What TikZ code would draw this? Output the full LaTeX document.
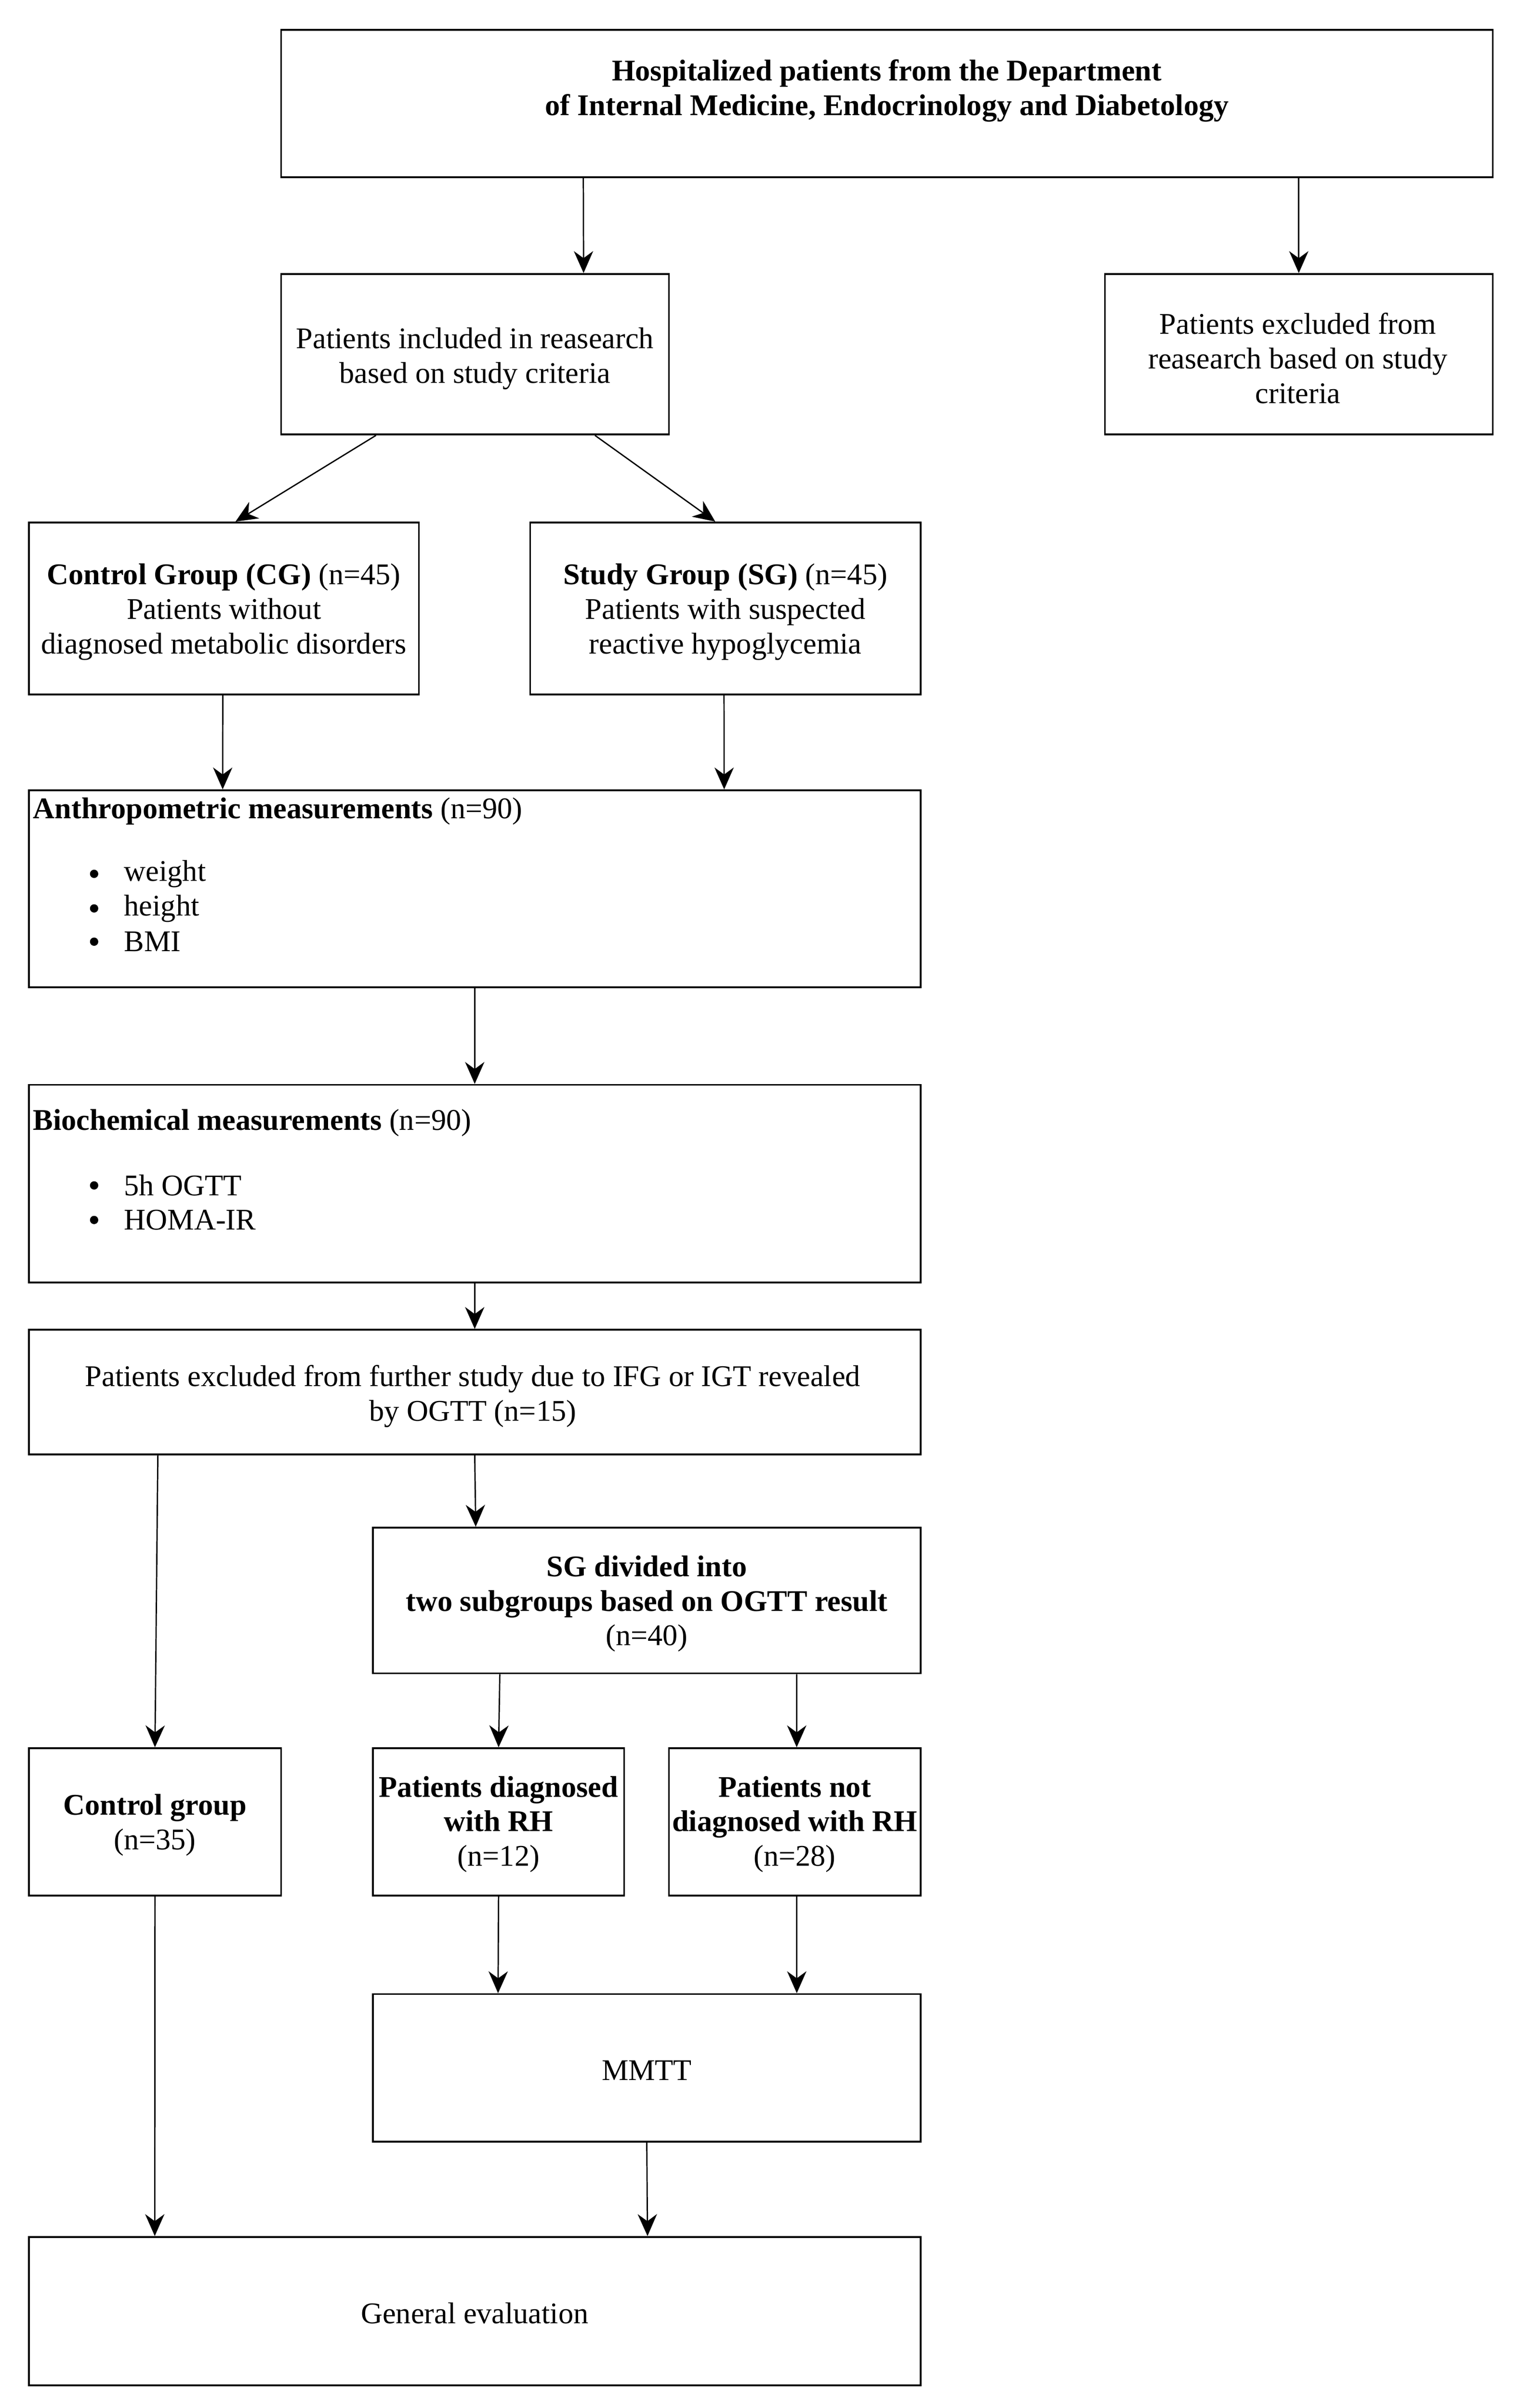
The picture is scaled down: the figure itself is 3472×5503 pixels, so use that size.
\documentclass[tikz,border=0pt]{standalone}
\usepackage{fontspec}
\setmainfont{Liberation Serif}
\usetikzlibrary{arrows.meta,calc}
\begin{document}
\begin{tikzpicture}[x=0.01cm,y=-0.01cm,
  box/.style={draw=black,line width=0.04cm,rectangle,inner sep=0pt,fill=white},
  txt/.style={align=center,inner sep=0pt,font=\fontsize{19.5}{22.5}\selectfont},
  ltxt/.style={anchor=west,inner sep=0pt,font=\fontsize{19.5}{22.5}\selectfont},
  dot/.style={circle,fill=black,inner sep=0pt,minimum size=0.19cm},
  arr/.style={line width=0.03cm,-{Stealth[length=0.5cm,width=0.44cm,inset=0.16cm]}}]
\useasboundingbox[fill=white] (0,0) rectangle (3472,5503);
% boxes
\node[box,minimum width=2768*0.01cm,minimum height=337*0.01cm] (top) at (2026,236.5) {};
\node[box,minimum width=886*0.01cm,minimum height=367*0.01cm] (incl) at (1085,809.5) {};
\node[box,minimum width=886*0.01cm,minimum height=367*0.01cm] (excl) at (2967,809.5) {};
\node[box,minimum width=891*0.01cm,minimum height=393*0.01cm] (cg) at (511.5,1390.5) {};
\node[box,minimum width=892*0.01cm,minimum height=393*0.01cm] (sg) at (1657,1390.5) {};
\node[box,minimum width=2037*0.01cm,minimum height=450*0.01cm] (anthro) at (1084.5,2031) {};
\node[box,minimum width=2037*0.01cm,minimum height=452*0.01cm] (bio) at (1084.5,2705) {};
\node[box,minimum width=2037*0.01cm,minimum height=285*0.01cm] (exfur) at (1084.5,3181.5) {};
\node[box,minimum width=1251*0.01cm,minimum height=333*0.01cm] (sgdiv) at (1477.5,3657.5) {};
\node[box,minimum width=576*0.01cm,minimum height=337*0.01cm] (ctrl) at (354,4163.5) {};
\node[box,minimum width=574*0.01cm,minimum height=337*0.01cm] (diag) at (1139,4163.5) {};
\node[box,minimum width=575*0.01cm,minimum height=337*0.01cm] (notdiag) at (1815.5,4163.5) {};
\node[box,minimum width=1251*0.01cm,minimum height=337*0.01cm] (mmtt) at (1477.5,4725.5) {};
\node[box,minimum width=2037*0.01cm,minimum height=339*0.01cm] (gen) at (1084.5,5281.5) {};
% texts
\node[txt] (ttop) at (2026,207) {\textbf{Hospitalized patients from the Department}\\\textbf{of Internal Medicine, Endocrinology and Diabetology}};
\node[txt] (tincl) at (1085,820) {Patients included in reasearch\\based on study criteria};
\node[txt] (texcl) at (2965,819) {Patients excluded from\\reasearch based on study\\criteria};
\node[txt] (tcg) at (511.5,1398) {\textbf{Control Group (CG)} (n=45)\\Patients without\\diagnosed metabolic disorders};
\node[txt] (tsg) at (1657,1398) {\textbf{Study Group (SG)} (n=45)\\Patients with suspected\\reactive hypoglycemia};
\node[ltxt] (tanthro) at (75,1854) {\textbf{Anthropometric measurements} (n=90)};
\node[dot] (ba1) at (215,1997) {};
\node[ltxt] (ta1) at (283,1997) {weight};
\node[dot] (ba2) at (215,2076) {};
\node[ltxt] (ta2) at (283,2076) {height};
\node[dot] (ba3) at (215,2152) {};
\node[ltxt] (ta3) at (283,2152) {BMI};
\node[ltxt] (tbio) at (75,2566) {\textbf{Biochemical measurements} (n=90)};
\node[dot] (bb1) at (215,2709) {};
\node[ltxt] (tb1) at (283,2709) {5h OGTT};
\node[dot] (bb2) at (215,2788) {};
\node[ltxt] (tb2) at (283,2788) {HOMA-IR};
\node[txt] (texfur) at (1080,3191) {Patients excluded from further study due to IFG or IGT revealed\\by OGTT (n=15)};
\node[txt] (tsgdiv) at (1477.5,3665) {\textbf{SG divided into}\\\textbf{two subgroups based on OGTT result}\\(n=40)};
\node[txt] (tctrl) at (354,4171) {\textbf{Control group}\\(n=35)};
\node[txt] (tdiag) at (1139,4169) {\textbf{Patients diagnosed}\\\textbf{with RH}\\(n=12)};
\node[txt] (tnotdiag) at (1815.5,4169) {\textbf{Patients not}\\\textbf{diagnosed with RH}\\(n=28)};
\node[txt] (tmmtt) at (1477.5,4731) {MMTT};
\node[txt] (tgen) at (1084.5,5286) {General evaluation};
% connectors
\draw[arr] ([xshift=-6.93cm]top.south) -- ([xshift=2.48cm]incl.north);
\draw[arr] (top.south -| excl.north) -- (excl.north);
\draw[arr] ([xshift=-2.26cm]incl.south) -- ([xshift=0.265cm]cg.north);
\draw[arr] ([xshift=2.74cm]incl.south) -- ([xshift=-0.23cm]sg.north);
\draw[arr] ([xshift=-0.025cm]cg.south) -- ([xshift=-5.755cm]anthro.north);
\draw[arr] ([xshift=-0.03cm]sg.south) -- ([xshift=5.695cm]anthro.north);
\draw[arr] (anthro.south) -- (bio.north);
\draw[arr] (bio.south) -- (exfur.north);
\draw[arr] ([xshift=-7.235cm]exfur.south) -- (ctrl.north);
\draw[arr] (exfur.south) -- ([xshift=-3.905cm]sgdiv.north);
\draw[arr] ([xshift=-3.355cm]sgdiv.south) -- (diag.north);
\draw[arr] ([xshift=3.425cm]sgdiv.south) -- ([xshift=0.045cm]notdiag.north);
\draw[arr] (diag.south) -- ([xshift=-3.395cm]mmtt.north);
\draw[arr] ([xshift=0.045cm]notdiag.south) -- ([xshift=3.425cm]mmtt.north);
\draw[arr] (ctrl.south) -- ([xshift=-7.305cm]gen.north);
\draw[arr] (mmtt.south) -- ([xshift=3.945cm]gen.north);
\end{tikzpicture}
\end{document}
